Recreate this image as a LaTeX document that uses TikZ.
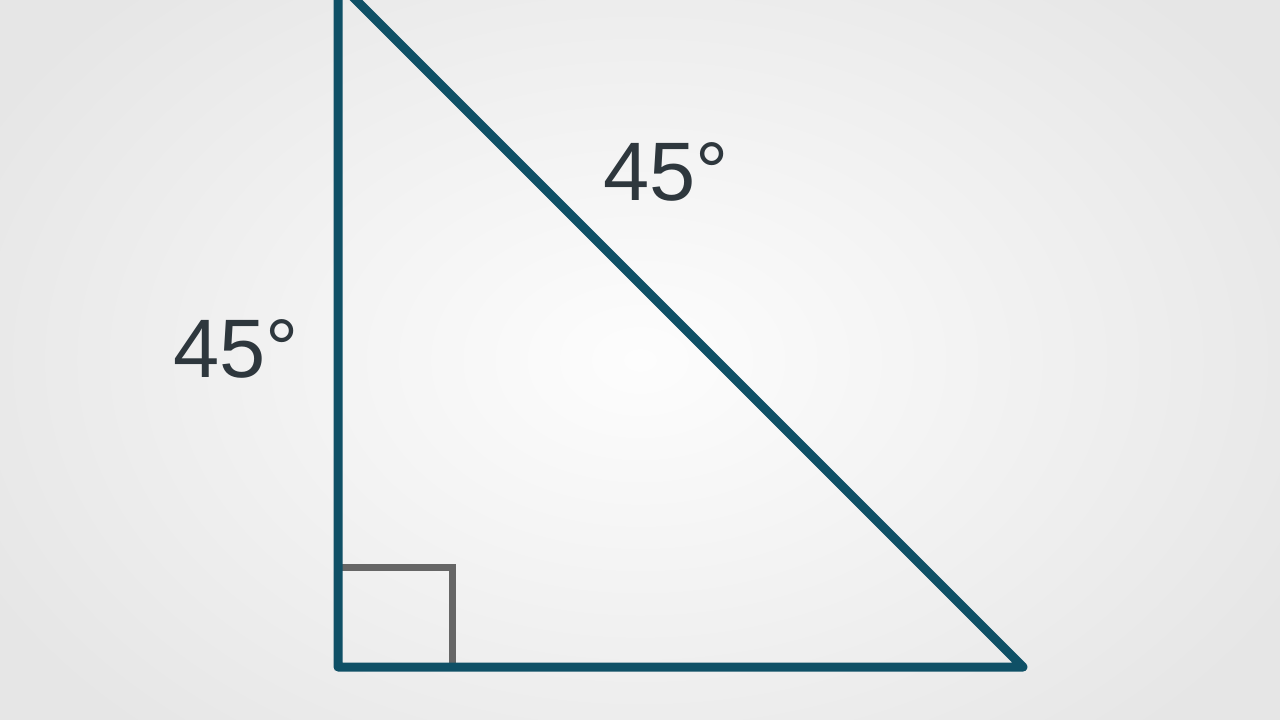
\documentclass[tikz,border=0pt]{standalone}
\usepackage{fontspec}
\setmainfont{Liberation Sans}
\definecolor{tealline}{HTML}{0F5066}
\definecolor{graysq}{HTML}{666666}
\definecolor{labeltxt}{HTML}{2E373D}
\definecolor{bgin}{HTML}{FDFDFD}
\definecolor{bgout}{HTML}{E6E6E6}
\begin{document}
\begin{tikzpicture}[x=1pt,y=-1pt,
  edge/.style={draw=tealline,line width=9pt,line join=round,line cap=round},
  rightmark/.style={draw=graysq,line width=7pt},
  anglabel/.style={font=\fontsize{83}{83}\selectfont,text=labeltxt,inner sep=0pt,anchor=base}]
\useasboundingbox (0,0) rectangle (1280,720);
\shade[inner color=bgin,outer color=bgout] (-100,-150) rectangle (1380,870);
\coordinate (A) at (338,-18);
\coordinate (B) at (338,667);
\coordinate (C) at (1023,667);
\coordinate (S1) at (338,567);
\coordinate (S2) at (452,567);
\coordinate (S3) at (452,667);
\draw[rightmark] (S1) -- (S2) -- (S3);
\draw[edge] (A) -- (B) -- (C) -- cycle;
\node[anglabel] (top) at (666,200) {45°};
\node[anglabel] (left) at (236,377) {45°};
\end{tikzpicture}
\end{document}
